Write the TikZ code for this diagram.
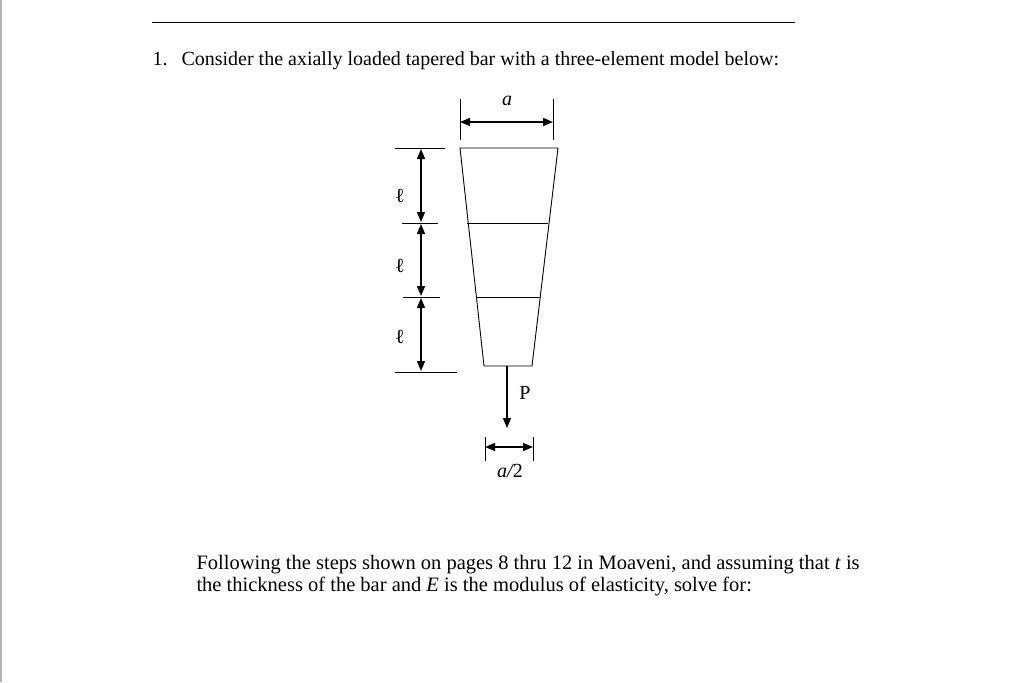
\documentclass[tikz,border=0pt]{standalone}
\usepackage{fontspec}
\setmainfont{Liberation Serif}
\usetikzlibrary{arrows.meta}
\begin{document}
\begin{tikzpicture}[x=1pt,y=-1pt,line width=1pt,
  dim/.style={{Triangle[length=10pt,width=8pt]}-{Triangle[length=10pt,width=8pt]},line width=1.3pt},
  thin/.style={line width=0.9pt},
  lab/.style={inner sep=0pt,font=\fontsize{20}{23}\selectfont},
  body/.style={inner sep=0pt,font=\fontsize{20.5}{24}\selectfont}]
\useasboundingbox (0,0) rectangle (1024,682);
\draw[gray!60,line width=1.5pt] (1,0) -- (1,682);
\draw[thin] (152,22) -- (795,22);
\node[lab,anchor=base west] (num) at (152,66) {1.};
\node[lab,anchor=base west] (t1) at (181,66) {Consider the axially loaded tapered bar with a three-element model below:};
% bar
\coordinate (tl) at (460,148); \coordinate (tr) at (558,148);
\coordinate (bl) at (484,366); \coordinate (br) at (532,366);
\draw[thin] (tl) -- (tr) -- (br) -- (bl) -- cycle;
\coordinate (d1l) at (466.7,223); \coordinate (d1r) at (548,223);
\coordinate (d2l) at (476,297); \coordinate (d2r) at (540,297);
\draw[thin] (d1l) -- (d1r); \draw[thin] (d2l) -- (d2r);
% a dimension
\coordinate (at1) at (460,99); \coordinate (ab1) at (460,140);
\coordinate (at2) at (553,99); \coordinate (ab2) at (553,140);
\draw[thin] (at1) -- (ab1); \draw[thin] (at2) -- (ab2);
\coordinate (aa1) at (460,122); \coordinate (aa2) at (553,122);
\draw[dim] (aa1) -- (aa2);
\node[lab,font=\fontsize{20}{23}\selectfont\itshape] (la) at (507,101) {a};
% left dims
\coordinate (h1a) at (395,148); \coordinate (h1b) at (445,148);
\coordinate (h2a) at (402,223); \coordinate (h2b) at (438,223);
\coordinate (h3a) at (403,297); \coordinate (h3b) at (440,297);
\coordinate (h4a) at (395,372); \coordinate (h4b) at (457,372);
\draw[thin] (h1a) -- (h1b); \draw[thin] (h2a) -- (h2b);
\draw[thin] (h3a) -- (h3b); \draw[thin] (h4a) -- (h4b);
\coordinate (v1) at (421,149); \coordinate (v2) at (421,222);
\coordinate (v3) at (421,224); \coordinate (v4) at (421,296);
\coordinate (v5) at (421,298); \coordinate (v6) at (421,371);
\draw[dim] (v1) -- (v2); \draw[dim] (v3) -- (v4); \draw[dim] (v5) -- (v6);
\node[lab] (l1) at (400,196) {ℓ};
\node[lab] (l2) at (400,266) {ℓ};
\node[lab] (l3) at (400,337) {ℓ};
% load
\coordinate (p0) at (507,366); \coordinate (p1) at (507,428);
\draw[-{Triangle[length=10pt,width=8pt]},line width=1.3pt] (p0) -- (p1);
\node[lab] (lp) at (525,393) {P};
% a/2 dim
\draw[thin] (485,437) coordinate (q1) -- (485,461) coordinate (q2);
\draw[thin] (533,437) coordinate (q3) -- (533,461) coordinate (q4);
\coordinate (qa) at (485,447); \coordinate (qb) at (533,447);
\draw[dim] (qa) -- (qb);
\node[lab] (la2) at (510,471) {\itshape a/\upshape2};
% bottom text
\node[body,anchor=base west] (t2) at (196,569) {Following the steps shown on pages 8 thru 12 in Moaveni, and assuming that \textit{t} is};
\node[body,anchor=base west] (t3) at (196,591) {the thickness of the bar and \textit{E} is the modulus of elasticity, solve for:};
\end{tikzpicture}
\end{document}
